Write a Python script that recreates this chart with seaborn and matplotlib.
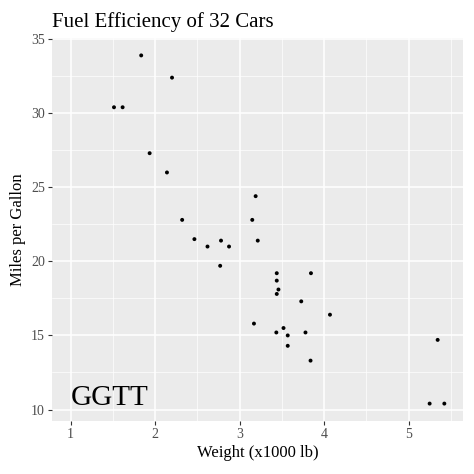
import matplotlib
matplotlib.use("Agg")
import matplotlib.pyplot as plt
import seaborn as sns
import pandas as pd
from matplotlib.ticker import MultipleLocator

wt = [2.620, 2.875, 2.320, 3.215, 3.440, 3.460, 3.570, 3.190, 3.150, 3.440,
      3.440, 4.070, 3.730, 3.780, 5.250, 5.424, 5.345, 2.200, 1.615, 1.835,
      2.465, 3.520, 3.435, 3.840, 3.845, 1.935, 2.140, 1.513, 3.170, 2.770,
      3.570, 2.780]
mpg = [21.0, 21.0, 22.8, 21.4, 18.7, 18.1, 14.3, 24.4, 22.8, 19.2,
       17.8, 16.4, 17.3, 15.2, 10.4, 10.4, 14.7, 32.4, 30.4, 33.9,
       21.5, 15.5, 15.2, 13.3, 19.2, 27.3, 26.0, 30.4, 15.8, 19.7,
       15.0, 21.4]
x_ticks = [1, 2, 3, 4, 5]
y_ticks = [10, 15, 20, 25, 30, 35]

df = pd.DataFrame({"wt": wt, "mpg": mpg})

sns.set_theme(style="darkgrid")
plt.rcParams["font.family"] = ["Liberation Serif", "DejaVu Serif"]

fig = plt.figure(figsize=(4.74, 4.74), dpi=100)
ax = fig.add_axes([52/474, (474-421)/474, 411/474, 383/474])
ax.set_facecolor("#EBEBEB")

sns.scatterplot(data=df, x="wt", y="mpg", ax=ax, color="black", s=8,
                edgecolor="none", linewidth=0, zorder=3)

ax.set_xlim(0.779, 5.645)
ax.set_ylim(9.225, 35.075)
ax.set_xticks(x_ticks)
ax.set_yticks(y_ticks)
ax.xaxis.set_minor_locator(MultipleLocator(0.5))
ax.yaxis.set_minor_locator(MultipleLocator(2.5))
ax.grid(which="major", color="white", linewidth=1.1)
ax.grid(which="minor", color="white", linewidth=0.5)
for s in ax.spines.values():
    s.set_visible(False)
ax.tick_params(which="major", length=3, width=0.8, color="#333333",
               labelcolor="#4D4D4D", labelsize=10, pad=2, left=True, bottom=True)
ax.tick_params(which="minor", length=0)

ax.set_xlabel("Weight (x1000 lb)", fontsize=12, color="black", labelpad=3)
ax.set_ylabel("Miles per Gallon", fontsize=12, color="black", labelpad=4)
ax.set_title("Fuel Efficiency of 32 Cars", loc="left", fontsize=15,
             color="black", pad=8)

ax.text(1, 10.3, "GGTT", fontsize=21, ha="left", va="baseline", color="black")

fig.savefig("out.png", dpi=100)
